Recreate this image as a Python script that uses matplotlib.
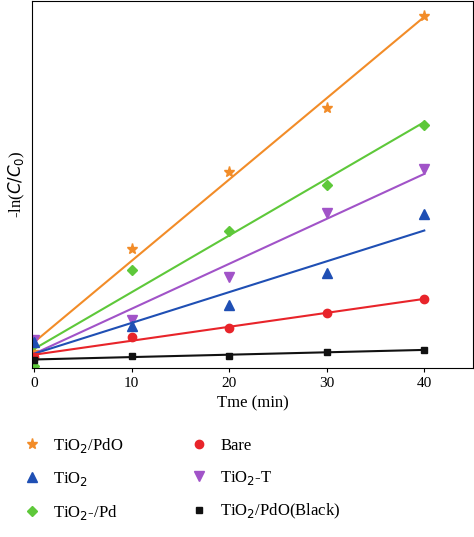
import numpy as np
import matplotlib.pyplot as plt

plt.rcParams['font.family'] = ['Liberation Serif', 'DejaVu Serif']

t = [0, 10, 20, 30, 40]
# -ln(C/C0)
pdo = [0.08, 1.11, 1.88, 2.53, 3.45]
pd = [-0.06, 0.90, 1.29, 1.75, 2.36]
tio2_t = [0.20, 0.40, 0.83, 1.47, 1.92]
tio2 = [0.18, 0.34, 0.55, 0.87, 1.46]
bare = [0.03, 0.23, 0.32, 0.47, 0.61]
black = [0.00, 0.04, 0.04, 0.08, 0.10]

series = [
    ("TiO$_2$/PdO", pdo, "*", "#f28c28", 8),
    ("TiO$_2$-/Pd", pd, "D", "#5ec83a", 5),
    ("TiO$_2$-T", tio2_t, "v", "#a153c8", 7),
    ("TiO$_2$", tio2, "^", "#1f4fb4", 7),
    ("Bare", bare, "o", "#e8242a", 6),
    ("TiO$_2$/PdO(Black)", black, "s", "#111111", 5),
]

fig = plt.figure(figsize=(4.74, 5.37), dpi=100)
ax = fig.add_axes([0.068, 0.315, 0.93, 0.683])
tt = np.array(t)
for label, y, m, c, s in series:
    ax.plot(t, y, m, color=c, markersize=s, linestyle='none', label=label)
    k, b = np.polyfit(tt, y, 1)
    ax.plot([0, 40], [b, b + 40 * k], color=c, lw=1.5)

ax.set_xlim(-0.2, 45)
ax.set_ylim(-0.08, 3.6)
ax.set_xticks([0, 10, 20, 30, 40])
ax.set_yticks([])
ax.tick_params(direction='out', length=3, labelsize=11)
ax.set_xlabel("Tme (min)", fontsize=12)
ax.set_ylabel("-ln($C/C_0$)", fontsize=12)

h, l = ax.get_legend_handles_labels()
order = [0, 3, 1, 4, 2, 5]
fig.legend([h[i] for i in order], [l[i] for i in order], ncol=2,
           loc='lower left', bbox_to_anchor=(0.0, 0.0), frameon=False,
           fontsize=12, handletextpad=0.3, columnspacing=3.5, labelspacing=0.9)
fig.savefig("out.png", dpi=100)
